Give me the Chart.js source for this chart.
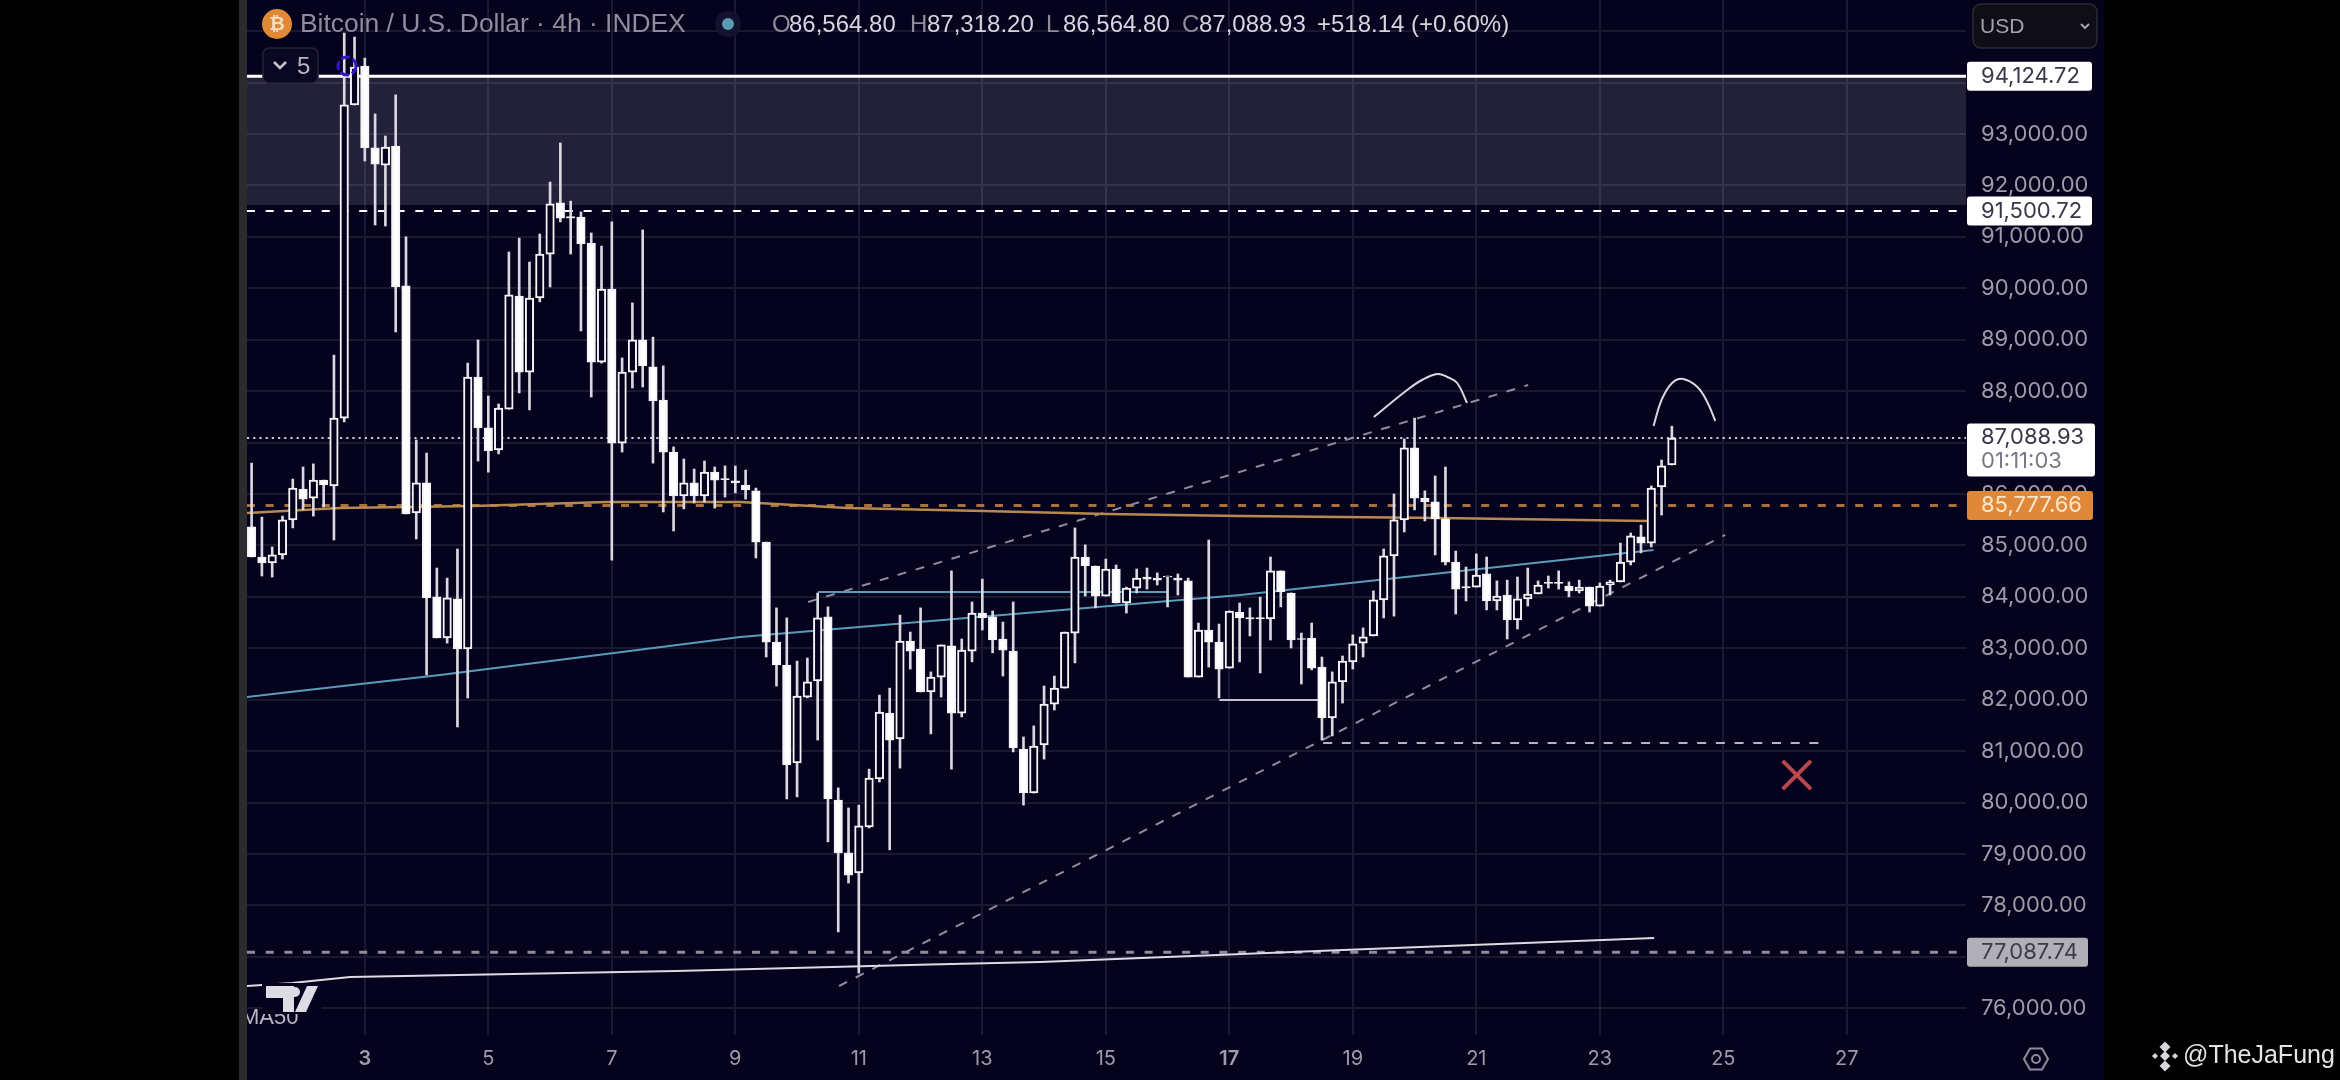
<!DOCTYPE html>
<html>
<head>
<meta charset="utf-8">
<title>Bitcoin / U.S. Dollar</title>
<script src="https://cdn.jsdelivr.net/npm/chart.js@4"></script>
<style>html,body{margin:0;background:#000;overflow:hidden}canvas{display:block}</style>
</head>
<body>
<canvas id="c" width="2340" height="1080"></canvas>
<script>
// 4h candles, first one is day 1 + 4h
const opens=[85360,84775,84660,84815,85495,86095,85920,86270,86155,87475,93565,94320,92730,92395,92765,90045,85630,86215,84000,83200,83960,82985,88275,87285,86855,87650,89850,88370,89810,90665,91660,91395,91385,90880,88565,89985,86990,88370,88995,88470,87825,86815,85960,86215,85960,86425,86300,86255,
86175,86060,85065,83120,82675,80770,82050,82365,83610,80050,79020,78630,79525,80460,81740,81235,83140,82985,82150,82440,83045,81740,82945,83685,83610,83180,82945,81040,80185,81120,81915,82225,83295,84775,84600,84015,84540,83880,84170,84385,84365,84385,84365,84310,82440,83355,83120,82615,83705,83595,83595,83570,84505,84075,83190,83200,82635,81645,82345,82735,83100,83240,83940,84795,85495,86895,85920,85845,85515,84675,84200,84190,84445,83920,84035,83550,83960,84055,84280,84280,84210,84115,84190,83820,84230,84290,84675,85165,85045,86135,86564.80];
const highs=[86600,85550,84970,85570,86290,86525,86585,86270,88700,94960,94885,94475,93390,92960,93760,91000,87050,86795,84560,84365,84930,88545,88995,87905,87750,90705,90975,90510,91055,92065,92825,91695,91485,91075,90820,91290,88645,89715,91135,89050,88490,86915,86680,86485,86640,86525,86545,86545,
86465,86115,85065,83785,83590,82750,82810,84075,83805,80285,79895,79950,80650,82090,82225,83645,83315,83785,82540,83065,84505,83180,83900,84345,83725,83510,83900,81275,81490,82265,82460,83315,85340,85010,84600,84735,84620,84190,84540,84560,84465,84405,84445,84365,83490,85105,83470,83725,83880,83785,83995,84775,84505,84075,83295,83490,82830,82540,82850,83260,83395,84115,84930,86000,87070,87475,86060,86350,86525,84890,84580,84835,84775,84310,84325,84385,84560,84310,84405,84505,84290,84325,84190,84270,84325,85045,85240,85395,86155,86660,87318.20];
const lows=[84775,84405,84385,84735,85340,85690,85570,85745,85105,87400,93565,92475,91230,91210,89150,85610,85125,82480,83200,83100,81470,82035,86640,86425,86780,87650,87965,87635,89735,90025,91290,90665,89170,87885,88545,84715,86815,88060,88080,86600,85650,85280,85710,85825,85845,85725,85940,86020,
85900,84755,82830,82265,80070,80110,82035,81215,79235,77485,78435,76685,79505,80400,79080,80670,82595,82150,81335,82050,80650,81665,82735,83355,82910,82460,80985,79950,80185,80845,81800,82225,82715,84015,83785,84015,83880,83685,84075,84150,84230,83805,84035,82440,82440,82635,82035,82615,82735,83240,82520,83160,83805,83005,82305,82580,81215,81295,81935,82595,82830,83240,83590,83625,85260,85690,85475,84815,84620,83665,83920,84190,83745,83745,83180,83375,83820,84055,84170,84150,84000,84075,83705,83820,84035,84290,84620,84855,84970,85590,86564.80];
const closes=[84775,84660,84815,85495,86115,85900,86270,86175,87475,93565,94300,92730,92415,92745,90025,85610,86215,83980,83200,83980,82985,88275,87285,86835,87670,89870,88370,89810,90665,91640,91365,91365,90860,88565,89985,86990,88370,88995,88490,87810,86815,85960,86215,85960,86425,86270,86280,86215,
86080,85065,83120,82675,80730,82070,82345,83590,80070,79020,78590,79545,80475,81760,81215,83140,82945,82150,82440,83065,81740,82965,83685,83590,83160,82965,81060,80185,81100,81915,82225,83315,84775,84600,84015,84540,83880,84170,84365,84345,84325,84405,84325,82440,83355,83120,82595,83725,83590,83570,83570,84505,84095,83160,83170,82615,81645,82345,82750,83085,83220,83940,84795,85495,86895,85920,85845,85515,84675,84150,84175,84425,83920,84015,83550,83960,84055,84230,84260,84260,84115,84190,83820,84210,84290,84675,85185,85045,86115,86545,87088.93];

const xTicks=[3,5,7,9,11,13,15,17,19,21,23,25,27];
const boldDays=[3,17];
const yTicks=[76000,77000,78000,79000,80000,81000,82000,83000,84000,85000,86000,87000,88000,89000,90000,91000,92000,93000,94000,95000];
const hiddenPrices=[94000,95000,87000,77000];

// drawn levels
const zoneLow=91620;
const levelTop=94124.72, levelMid=91500.72, levelLast=87088.93, levelOrange=85777.66, levelLow=77087.74;
// moving averages, [day, price]
const ma200=[[1.09,82052],[1.79,82150],[4.22,82480],[9.08,83219],[17.18,84036],[23.87,84911]];
const maOrange=[[1.09,85630],[2.6,85727],[4.75,85766],[6.92,85844],[9.08,85844],[10.81,85727],[13.01,85669],[15.02,85611],[17.18,85572],[20.42,85533],[23.78,85475]];
const ma50=[[1.09,76433],[1.82,76491],[2.76,76608],[8.04,76725],[12.15,76851],[13.94,76900],[18.84,77133],[23.88,77366]];
// hand drawn lines
const channelLow=[[10.68,76433],[25.03,85203]];
const channelUp=[[10.18,83900],[21.84,88119]];
const blueFlat=[[10.34,84094],[16.01,84094]];
const whiteFlat=[[16.84,81994],[18.46,81994]];
const stopLine=[[18.52,81158],[26.68,81158]];
const arcOne=[[19.34,87497],[19.88,88022],[20.12,88216],[20.37,88333],[20.53,88275],[20.69,88158],[20.85,87769]];
const arcTwo=[[23.87,87322],[24,87828],[24.17,88158],[24.35,88236],[24.58,88080],[24.74,87789],[24.87,87419]];
const crossMark=[[26.19,80536]];

const BG='#05021e';
const xMin=1.092,xMax=28.93,yMin=75480,yMax=95605;
const days=opens.map((_,i)=>1+(i+1)/6);
const pts=a=>a.map(p=>({x:p[0],y:p[1]}));
const span=v=>[{x:xMin,y:v},{x:xMax,y:v}];
const fmt=v=>v.toLocaleString('en-US',{minimumFractionDigits:2,maximumFractionDigits:2});
const AXFONT='Inter, "Liberation Sans", sans-serif';

function lineSet(data,color,width,order,extra){
  return Object.assign({type:'line',data,borderColor:color,borderWidth:width,pointRadius:0,tension:0,fill:false,order},extra||{});
}

function text(ctx,s,x,y,color,font){
  ctx.fillStyle=color;ctx.font=font;ctx.textAlign='left';ctx.textBaseline='middle';ctx.fillText(s,x,y);
}
function roundBox(ctx,x,y,w,h,r,fill,stroke){
  ctx.beginPath();ctx.roundRect(x,y,w,h,r);ctx.fillStyle=fill;ctx.fill();
  if(stroke){ctx.strokeStyle=stroke;ctx.lineWidth=1.5;ctx.stroke();}
}

const panels={id:'panels',beforeDraw(ch){
  const c=ch.ctx;
  c.fillStyle='#000';c.fillRect(0,0,2340,1080);
  c.fillStyle='#2b2b2d';c.fillRect(239,0,8,1080);
  c.fillStyle=BG;c.fillRect(247,0,1857,1080);
}};

const overlay={id:'overlay',afterDraw(ch){
  const c=ch.ctx,y=ch.scales.y;
  c.save();
  // header
  c.beginPath();c.arc(277,24,15,0,7);c.fillStyle='#e08a38';c.fill();
  c.fillStyle='#f6dcc0';c.font='bold 19px "Liberation Sans"';c.textAlign='center';c.textBaseline='middle';c.fillText('₿',277,25);
  text(c,'Bitcoin / U.S. Dollar · 4h · INDEX',300,25,'#8f8d9c','26.4px "Liberation Sans"');
  c.beginPath();c.arc(728,24,13,0,7);c.fillStyle='#14122c';c.fill();
  c.beginPath();c.arc(728,24,6,0,7);c.fillStyle='#5b9ab4';c.fill();
  const hf='24px "Liberation Sans"';
  [['O','86,564.80',772],['H','87,318.20',910],['L','86,564.80',1046],['C','87,088.93',1182]].forEach(t=>{
    text(c,t[0],t[2],25,'#8f8d9c',hf);
    text(c,t[1],t[2]+17,25,'#d6d5dd',hf);
  });
  text(c,'+518.14 (+0.60%)',1317,25,'#d6d5dd',hf);
  // collapse button and marker
  roundBox(c,263,48,55,35,6,'#0a0722','#25233b');
  c.strokeStyle='#c6c5cf';c.lineWidth=2.5;c.beginPath();c.moveTo(274,62);c.lineTo(280,68);c.lineTo(286,62);c.stroke();
  text(c,'5',297,67,'#b7b6c0','24px "Liberation Sans"');
  c.strokeStyle='#3a14cc';c.lineWidth=3;c.setLineDash([9,3]);c.beginPath();c.arc(347,66,9,0,7);c.stroke();c.setLineDash([]);
  // currency box
  roundBox(c,1973,4,124,44,8,'#0e0e14','#2a2a33');
  text(c,'USD',1980,27,'#a3a2ac','21px "Liberation Sans"');
  c.strokeStyle='#a3a2ac';c.lineWidth=2;c.beginPath();c.moveTo(2081,24);c.lineTo(2085,28);c.lineTo(2089,24);c.stroke();
  // price tags
  const tf='22px '+AXFONT;
  const tag=(v,w,fill,color)=>{
    const py=y.getPixelForValue(v);
    roundBox(c,1967,py-14.5,w,29,3,fill);
    text(c,fmt(v),1981,py,color,tf);
  };
  tag(levelTop,125,'#ffffff','#3a3848');
  tag(levelMid,125,'#ffffff','#3a3848');
  tag(levelOrange,126,'#e0883a','#ffe6cc');
  tag(levelLow,121,'#b0afb5','#3d3b48');
  const ly=y.getPixelForValue(levelLast);
  roundBox(c,1967,ly-14.5,128,53,3,'#ffffff');
  text(c,fmt(levelLast),1981,ly-1,'#3a3848',tf);
  text(c,'01:11:03',1981,ly+23,'#7a7885',tf);
  // settings icon
  c.strokeStyle='#8f8d9a';c.lineWidth=2;c.beginPath();
  for(let i=0;i<6;i++){const a=i*Math.PI/3;c[i?'lineTo':'moveTo'](2036+12*Math.cos(a),1059+12*Math.sin(a));}
  c.closePath();c.stroke();
  c.beginPath();c.arc(2036,1059,4,0,7);c.stroke();
  // chart logo + cut off study name
  c.save();c.beginPath();c.rect(247,980,200,60);c.clip();
  text(c,'MA50',241,1018,'#b9b8c2','22px "Liberation Sans"');
  c.restore();
  c.fillStyle=BG;c.fillRect(262,983,60,31);
  c.fillStyle='#dddce4';
  c.beginPath();c.moveTo(266,986);c.lineTo(294,986);c.lineTo(294,1012);c.lineTo(283,1012);c.lineTo(283,998);c.lineTo(266,998);c.closePath();c.fill();
  c.beginPath();c.arc(295,992,5,0,7);c.fill();
  c.beginPath();c.moveTo(307,986);c.lineTo(318,986);c.lineTo(306,1012);c.lineTo(295,1012);c.closePath();c.fill();
  // watermark
  c.fillStyle='#d5d5da';
  [[2165,1047,5.5],[2165,1056,5],[2155,1056,3],[2175,1056,3],[2165,1066,5.5]].forEach(d=>{
    c.beginPath();c.moveTo(d[0],d[1]-d[2]);c.lineTo(d[0]+d[2],d[1]);c.lineTo(d[0],d[1]+d[2]);c.lineTo(d[0]-d[2],d[1]);c.closePath();c.fill();
  });
  text(c,'@TheJaFung',2183,1056,'#e4e4e8','25px "Liberation Sans"');
  c.restore();
}};

new Chart(document.getElementById('c'),{
  data:{datasets:[
    {type:'bar',data:days.map((d,i)=>({x:d,y:[opens[i],closes[i]]})),grouped:false,barThickness:8.5,borderWidth:2,borderSkipped:false,borderColor:'#f4f4f7',
      backgroundColor:opens.map((o,i)=>closes[i]<o?'#ffffff':BG),order:1},
    {type:'bar',data:days.map((d,i)=>({x:d,y:[lows[i],highs[i]]})),grouped:false,barThickness:2,backgroundColor:'#d9d8e0',order:2},
    lineSet(pts(arcOne),'#d8d7e0',2,3,{tension:.4}),
    lineSet(pts(arcTwo),'#d8d7e0',2,3,{tension:.4}),
    lineSet(pts(crossMark),'#b8474f',0,3,{showLine:false,pointStyle:'crossRot',pointRadius:20,pointBorderWidth:4,pointBorderColor:'#b8474f'}),
    lineSet(pts(ma50),'#dcdbe3',2,4),
    lineSet(pts(maOrange),'#b8894f',2.5,4),
    lineSet(pts(ma200),'#5a9bb8',2,4),
    lineSet(pts(blueFlat),'#5a9bb8',2,4),
    lineSet(pts(whiteFlat),'#c5c4ce',2,4),
    lineSet(pts(stopLine),'#b5b4c0',2,4,{borderDash:[9,9.7]}),
    lineSet(pts(channelLow),'#8f8c9c',2,4,{borderDash:[9,9.7]}),
    lineSet(pts(channelUp),'#8f8c9c',2,4,{borderDash:[9,9.7]}),
    lineSet(span(levelTop),'#ffffff',3,5),
    lineSet(span(levelMid),'#ffffff',2,5,{borderDash:[8,10.7]}),
    lineSet(span(levelLast),'#c9c8d2',2,5,{borderDash:[2.2,4]}),
    lineSet(span(levelOrange),'#a8703c',3,5,{borderDash:[8,10.7]}),
    lineSet(span(levelLow),'#8f8c9c',3,5,{borderDash:[8,10.7]}),
    lineSet(span(levelTop),'rgba(0,0,0,0)',0,6,{fill:{value:zoneLow},backgroundColor:'rgba(255,255,255,0.12)'}),
  ]},
  options:{
    responsive:false,animation:false,events:[],devicePixelRatio:1,
    layout:{autoPadding:false,padding:{left:247,right:236,top:0,bottom:0}},
    plugins:{legend:{display:false},tooltip:{enabled:false}},
    scales:{
      x:{type:'linear',min:xMin,max:xMax,offset:false,
        afterBuildTicks:s=>{s.ticks=xTicks.map(v=>({value:v}));},
        afterFit:s=>{s.height=45;s.paddingLeft=0;s.paddingRight=0;},
        grid:{color:'#1b1833',lineWidth:2,drawTicks:false,offset:false},border:{display:false},
        ticks:{padding:12,color:'#9e9ca8',maxRotation:0,autoSkip:false,callback:v=>String(v),
          font:c=>({family:AXFONT,size:20,weight:boldDays.includes(c.tick&&c.tick.value)?'600':'400'})}},
      y:{type:'linear',position:'right',min:yMin,max:yMax,
        afterBuildTicks:s=>{s.ticks=yTicks.map(v=>({value:v}));},
        afterFit:s=>{s.width=138;s.paddingTop=0;s.paddingBottom=0;},
        grid:{color:'#1a1731',lineWidth:2,drawTicks:false},border:{display:false},
        ticks:{padding:15,color:'#9e9ca8',autoSkip:false,
          font:{family:AXFONT,size:22},
          callback:v=>hiddenPrices.includes(v)?'':fmt(v)}}
    }
  },
  plugins:[panels,overlay]
});
</script>
</body>
</html>
